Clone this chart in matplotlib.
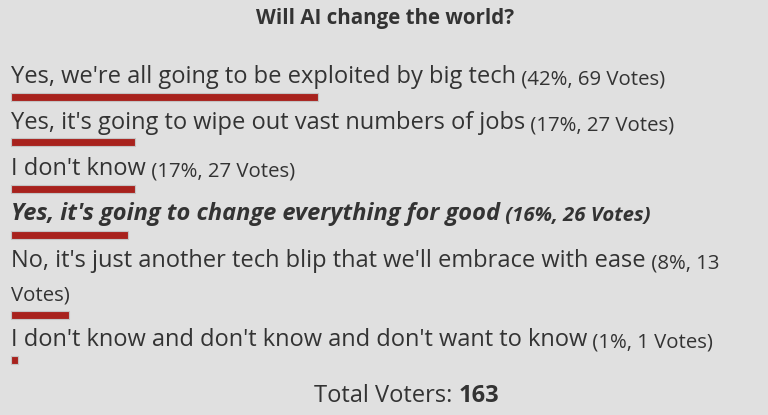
import matplotlib.pyplot as plt

title = "Will AI change the world?"
answers = [
    "Yes, we're all going to be exploited by big tech",
    "Yes, it's going to wipe out vast numbers of jobs",
    "I don't know",
    "Yes, it's going to change everything for good",
    "No, it's just another tech blip that we'll embrace with ease",
    "I don't know and don't know and don't want to know",
]
percents = [42, 17, 17, 16, 8, 1]
votes = [69, 27, 27, 26, 13, 1]
total_voters = 163

# layout (pixels, top-left origin)
text_base = [83, 129, 175, 220, 267, 346]
bar_mid = [97, 142, 189, 235, 315, 360]
left = 11
full_width = 731
bar_h = 8

FONT = ["Open Sans", "DejaVu Sans"]
BG = "#e0e0e0"
TXT = "#333333"
RED = "#a8221d"
BIG = 17.0
SMALL = 14.7

fig = plt.figure(figsize=(7.68, 4.15), dpi=100, facecolor=BG)
ax = fig.add_axes([0, 0, 1, 1])
ax.set_xlim(0, 768)
ax.set_ylim(415, 0)
ax.axis("off")
ax.set_facecolor(BG)

ax.text(385, 24, title, ha="center", va="baseline", fontsize=14.8,
        fontweight="bold", color=TXT, family=FONT)

widths = [p / 100 * full_width for p in percents]
ax.barh(bar_mid, widths, height=bar_h, left=left, color=RED,
        edgecolor="#c4c4c4", linewidth=0.8)

for i, (ans, p, v) in enumerate(zip(answers, percents, votes)):
    style = "italic" if i == 3 else "normal"
    weight = "bold" if i == 3 else "normal"
    small = f" ({p}%, {v} Votes)"
    if i == 4:
        # wraps onto a second line
        t = ax.text(left, text_base[i], ans, ha="left", va="baseline",
                    fontsize=BIG, color=TXT, family=FONT)
        ax.annotate(f" ({p}%, {v}", xycoords=t, xy=(1, 0), va="bottom",
                    fontsize=SMALL, color=TXT, family=FONT)
        ax.text(left, 300, "Votes)", ha="left", va="baseline",
                fontsize=SMALL, color=TXT, family=FONT)
        continue
    t = ax.text(left, text_base[i], ans, ha="left", va="baseline",
                fontsize=BIG, color=TXT, family=FONT, style=style,
                fontweight=weight)
    ax.annotate(small, xycoords=t, xy=(1, 0), va="bottom",
                fontsize=SMALL, color=TXT, family=FONT, style=style,
                fontweight=weight)

ax.text(459, 402, "Total Voters: ", ha="right", va="baseline",
        fontsize=BIG, color=TXT, family=FONT)
ax.text(459, 402, str(total_voters), ha="left", va="baseline",
        fontsize=BIG, fontweight="bold", color=TXT, family=FONT)

fig.savefig("out.png", dpi=100, facecolor=BG)
